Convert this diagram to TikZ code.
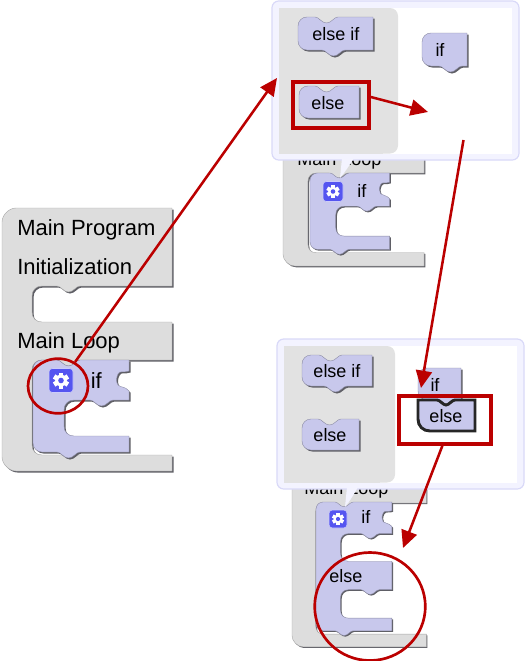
\documentclass[tikz,border=0pt]{standalone}
\usepackage{fontspec}
\setmainfont{Liberation Sans}
\usetikzlibrary{arrows.meta,shapes.geometric}
\definecolor{BlockViolet}{HTML}{C8C8EC}
\definecolor{BlockGray}{HTML}{DDDDDD}
\definecolor{BlockShadow}{HTML}{5F5F66}
\definecolor{PopEdge}{HTML}{D9D9F8}
\definecolor{PopFill}{HTML}{F3F3FF}
\definecolor{PanelGray}{HTML}{E2E2E2}
\definecolor{GearBlue}{HTML}{5555F0}
\definecolor{MarkRed}{HTML}{BB0000}
\tikzset{
	bigtext/.style={anchor=base west,inner sep=0pt,font=\fontsize{16.5}{18}\selectfont},
	midtext/.style={anchor=base west,inner sep=0pt,font=\fontsize{13.5}{15}\selectfont},
	blocktext/.style={anchor=center,inner sep=0pt,font=\fontsize{13.5}{15}\selectfont},
	violetfill/.style={fill=BlockViolet,draw=BlockViolet!70!black,line width=.3pt},
	grayfill/.style={fill=BlockGray,draw=gray!70,line width=.3pt},
	pickedfill/.style={fill=BlockViolet,draw=black!85,line width=2.2pt},
	redarrow/.style={-{Triangle[length=13pt,width=12pt]},MarkRed,line width=1.9pt},
	redbox/.style={draw=MarkRed,line width=2.8pt,inner sep=0pt},
	redring/.style={ellipse,draw=MarkRed,line width=2pt,inner sep=0pt},
	gearbox/.style={fill=GearBlue,draw=white!70!GearBlue,line width=.4pt,rounded corners=2.5pt,inner sep=0pt}
}
% block edges, all in reference pixels
\newcommand{\notchTop}{.. controls +(4,0) and +(-5,0) .. ++(11.5,6) .. controls +(5,0) and +(-4,0) .. ++(11.5,-6)}
\newcommand{\notchBot}{.. controls +(-4,0) and +(5,0) .. ++(-11.5,6) .. controls +(-5,0) and +(4,0) .. ++(-11.5,-6)}
\newcommand{\cornerTL}{.. controls +(0,-5) and +(-5,0) .. ++(9,-9)}
\newcommand{\cornerBL}{.. controls +(-5,0) and +(0,5) .. ++(-9,-9)}
\newcommand{\cornerIT}{.. controls +(-6,0) and +(0,-6) .. ++(-10,10)}
\newcommand{\cornerIB}{.. controls +(0,6) and +(-6,0) .. ++(10,10)}
\newcommand{\bigTL}{.. controls +(0,-7) and +(-7,0) .. ++(14,-14)}
\newcommand{\bigBL}{.. controls +(-7,0) and +(0,7) .. ++(-14,-14)}
\newcommand{\shadedblock}[2]{
	\fill[BlockShadow,shift={(1.5,1.5)}] #2;
	\path[#1] #2;
}
\newcommand{\smallpath}[4]{(0,9) \cornerTL #3 -- (#1,0) -- (#1,#2) #4 -- (9,#2) \cornerBL -- cycle}
\newcommand{\ifhead}{(0,9) \cornerTL -- (24,0) \notchTop -- (96,0) -- (96,11)
	.. controls (91,13) and (87,10) .. (85,14) .. controls (83,18) and (83,22) .. (85,25)
	.. controls (88,28) and (92,26) .. (96,31) -- (96,40) -- (80,40) \notchBot -- (41,40) \cornerIT}
\newcommand{\iffoot}[1]{-- (31,#1-10) \cornerIB -- (96,#1) -- (96,#1+16) -- (47,#1+16) \notchBot -- (9,#1+16) \cornerBL -- cycle}
\newcommand{\loopgray}[1]{(0,14) \bigTL -- (170,0) -- (170,38) -- (78,38) \notchBot -- (40,38) \cornerIT -- (30,#1-10) \cornerIB -- (170,#1) -- (170,#1+16) -- (14,#1+16) \bigBL -- cycle}
\newcommand{\gearshape}{
	\foreach \a in {0,60,...,300}
		\fill[white,rotate=\a] (-2.4,-8) rectangle (2.4,-4);
	\fill[white] (0,0) circle (5.8);
	\fill[GearBlue] (0,0) circle (2.8);
}
\newcommand{\popup}[5]{
	\fill[PopFill,draw=PopEdge,line width=.9pt,rounded corners=5pt] (#1,#2) rectangle (#3,#4);
	\fill[white] ({#1+7},{#2+7}) rectangle ({#3-7},{#4-6.5});
	\fill[PanelGray] ({#1+7},{#2+7}) rectangle ({#5-15},{#4-6.5});
	\fill[PanelGray,rounded corners=6pt] ({#5-25},{#2+7}) rectangle (#5,{#4-6.5});
}

\begin{document}
\begin{tikzpicture}[x=.75pt,y=-.75pt]
		\useasboundingbox (0,0) rectangle (527,661);
		% left program
		\begin{scope}[shift={(2,208)}]
			\shadedblock{grayfill}{(0,14) \bigTL -- (170,0) -- (170,78) -- (78,78) \notchBot -- (40,78) \cornerIT -- (30,104) \cornerIB -- (170,114) -- (170,152) -- (78,152) \notchBot -- (40,152) \cornerIT -- (30,237) \cornerIB -- (170,247) -- (170,263) -- (14,263) \bigBL -- cycle}
		\end{scope}
		\begin{scope}[shift={(33,360)}]
			\shadedblock{violetfill}{\ifhead \iffoot{76}}
		\end{scope}
		\node[bigtext] (mainprogram) at (17,235) {Main Program};
		\node[bigtext] (initlabel) at (17,274) {Initialization};
		\node[bigtext] (mainloop) at (17,348) {Main Loop};
		\node[bigtext] (iflabel) at (90.5,388) {if};
		\node[gearbox,minimum size=18pt] (gearleft) at (61,380.5) {};
		\begin{scope}[shift={(gearleft)}]
			\gearshape
		\end{scope}

		% top right program, under its popup
		\begin{scope}[shift={(283,141.5)},scale=.83]
			\shadedblock{grayfill}{\loopgray{134}}
		\end{scope}
		\begin{scope}[shift={(310,173)},scale=.83]
			\shadedblock{violetfill}{\ifhead \iffoot{76}}
		\end{scope}
		\node[midtext] (toploop) at (297,165) {Main Loop};
		\node[midtext] (topif) at (357,197) {if};
		\node[gearbox,minimum size=15pt] (geartop) at (333,191.5) {};
		\begin{scope}[shift={(geartop)},scale=.82]
			\gearshape
		\end{scope}
		\popup{272}{1}{519}{160}{398}
		\fill[PopFill] (342,158) -- (354,158) .. controls (349,166) and (345,172) .. (340,178) -- cycle;
		\begin{scope}[shift={(298,17)}]
			\shadedblock{violetfill}{\smallpath{75}{33}{-- (17,0) \notchTop}{-- (47,33) \notchBot}}
		\end{scope}
		\begin{scope}[shift={(299,86)}]
			\shadedblock{violetfill}{\smallpath{60}{32}{-- (16,0) \notchTop}{}}
		\end{scope}
		\begin{scope}[shift={(422,33)}]
			\shadedblock{violetfill}{\smallpath{45}{33}{}{-- (40,33) \notchBot}}
		\end{scope}
		\node[blocktext] (topelseif) at (336,34) {else if};
		\node[blocktext] (topelse) at (328,103) {else};
		\node[blocktext] (topnewif) at (440,50) {if};

		% bottom right program, under its popup
		\begin{scope}[shift={(292,473)},scale=.79]
			\shadedblock{grayfill}{\loopgray{204}}
		\end{scope}
		\begin{scope}[shift={(316,502)},scale=.79]
			\shadedblock{violetfill}{\ifhead -- (31,65) \cornerIB -- (96,75) -- (96,111) -- (80,111) \notchBot -- (41,111) \cornerIT \iffoot{147}}
		\end{scope}
		\node[midtext] (lowloop) at (304,494) {Main Loop};
		\node[midtext] (lowif) at (361,523) {if};
		\node[midtext] (lowelse) at (329,582) {else};
		\node[gearbox,minimum size=13.5pt] (gearlow) at (338,519) {};
		\begin{scope}[shift={(gearlow)},scale=.75]
			\gearshape
		\end{scope}
		\popup{277}{339}{524}{489}{395}
		\fill[PopFill] (347,487) -- (358,487) .. controls (354,494) and (350,501) .. (345,507) -- cycle;
		\begin{scope}[shift={(302,355)}]
			\shadedblock{violetfill}{\smallpath{70}{31}{-- (17,0) \notchTop}{-- (45,31) \notchBot}}
		\end{scope}
		\begin{scope}[shift={(302,419)}]
			\shadedblock{violetfill}{\smallpath{57}{31}{-- (16,0) \notchTop}{}}
		\end{scope}
		\begin{scope}[shift={(418,368)}]
			\shadedblock{violetfill}{\smallpath{43}{32}{}{-- (37,32) \notchBot}}
		\end{scope}
		\begin{scope}[shift={(418,400)}]
			\path[pickedfill] (0,0) -- (19,0) .. controls +(3,0) and +(-3,0) .. ++(9,5) .. controls +(3,0) and +(-3,0) .. ++(9,-5) -- (57,0) -- (57,31) -- (12,31) .. controls +(-7,0) and +(0,7) .. ++(-12,-12) -- cycle;
		\end{scope}
		\node[blocktext] (lowelseif) at (337,371) {else if};
		\node[blocktext] (lowelsepanel) at (330,435) {else};
		\node[blocktext] (lownewif) at (435,385) {if};
		\node[blocktext] (lownewelse) at (446,416) {else};

		% red marks
		\node[redring,minimum width=45pt,minimum height=41pt] (leftring) at (58,386) {};
		\node[redbox,minimum width=57pt,minimum height=34.5pt] (elsepick) at (331,105) {};
		\node[redbox,minimum width=69pt,minimum height=36pt] (elsedrop) at (445,420) {};
		\node[redring,minimum width=83pt,minimum height=81pt] (lowring) at (370,606.5) {};
		\coordinate (popupedge) at (277,78);
		\coordinate (droptarget) at (428,112);
		\coordinate (dragstart) at (463.5,140);
		\coordinate (dragend) at (421,388);
		\coordinate (ringtarget) at (403,548);
		\draw[redarrow] (leftring) -- (popupedge);
		\draw[redarrow] ([yshift=6pt]elsepick.east) -- (droptarget);
		\draw[redarrow] (dragstart) -- (dragend);
		\draw[redarrow] ([xshift=-2pt]elsedrop.south) -- (ringtarget);
	\end{tikzpicture}
\end{document}
